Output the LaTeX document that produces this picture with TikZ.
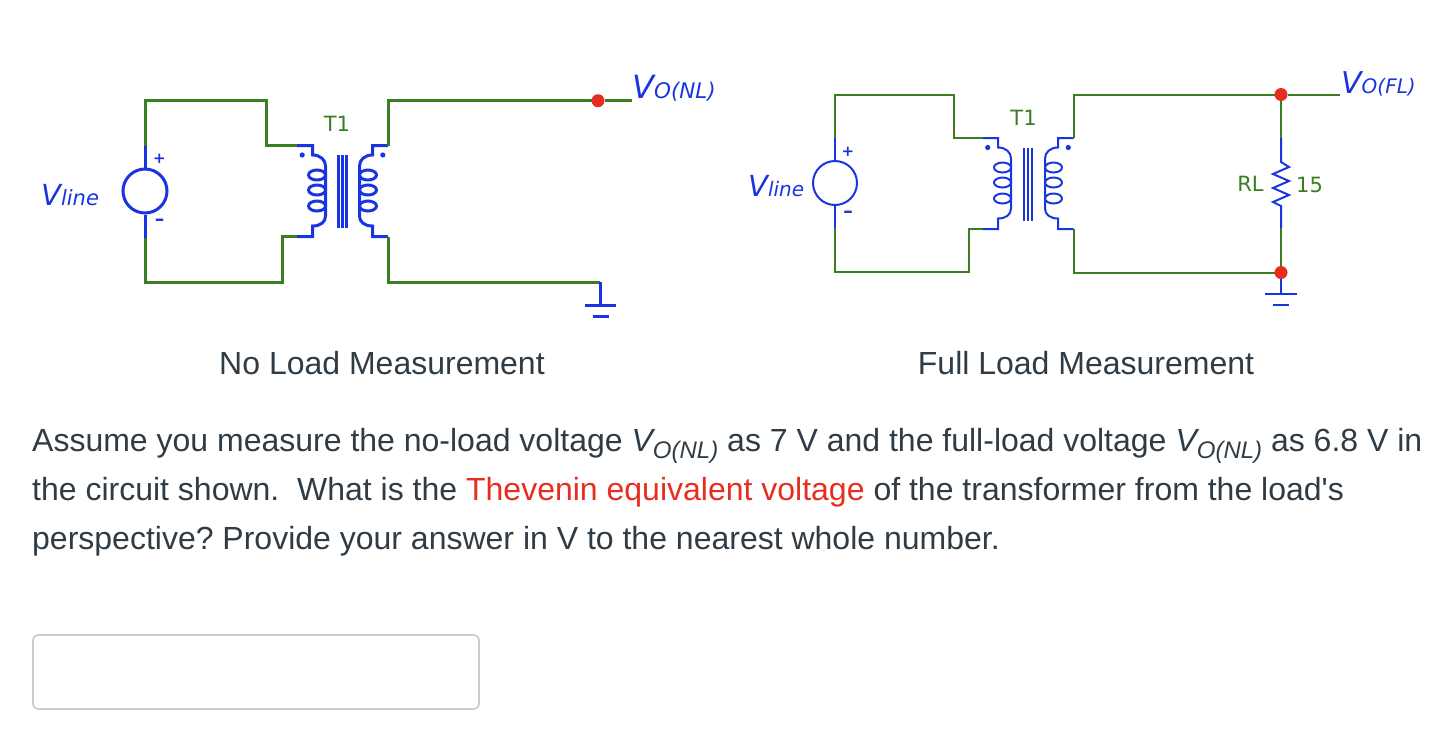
\documentclass[tikz,border=0pt]{standalone}
\usepackage{fontspec}
\setmainfont{Liberation Sans}
\newfontfamily\schfont{DejaVu Sans}
\definecolor{wireblue}{HTML}{1A35E0}
\definecolor{wiregreen}{HTML}{3A7D22}
\definecolor{probered}{HTML}{E62E20}
\definecolor{bodygrey}{HTML}{2F3C46}
\definecolor{boxgrey}{HTML}{C8CCCE}
\newcommand{\bodysize}{\fontsize{32}{38}\selectfont}
\newcommand{\vsub}[1]{{\itshape V}\raisebox{-7.5pt}{\fontsize{24}{24}\selectfont\itshape #1}}
\tikzset{
	x=1pt, y=-1pt,
	wire/.style={draw=wiregreen, line join=miter},
	lead/.style={draw=wireblue},
	source/.style={circle, draw=wireblue, minimum size=44pt, inner sep=0pt},
	probe/.style={circle, fill=probered, minimum size=13pt, inner sep=0pt, outer sep=0pt},
	sign/.style={text=wireblue, font=\schfont\bfseries\fontsize{15}{15}\selectfont, inner sep=0pt},
	negsign/.style={text=wireblue, font=\schfont\bfseries\fontsize{19}{19}\selectfont, inner sep=0pt},
	partname/.style={text=wiregreen, font=\schfont\fontsize{21}{21}\selectfont, inner sep=0pt},
	caption/.style={text=bodygrey, font=\bodysize, inner sep=0pt},
	bodyline/.style={text=bodygrey, font=\bodysize, anchor=base west, inner sep=0pt},
	xfmr/.pic={
		\foreach \s in {-1,1} {
			\draw[lead, line join=miter] (\s*45.5,-45.5) -- (\s*30,-45.5) -- (\s*30,-36)
				.. controls (\s*22,-36) and (\s*17,-31) .. (\s*17,-25) -- (\s*17,25)
				.. controls (\s*17,31) and (\s*22,35) .. (\s*30,35) -- (\s*30,45.5) -- (\s*45.5,45.5);
			\foreach \h in {-16,-1,15}
				\draw[lead] (\s*25.5,\h) ellipse (8.5 and 5);
			\fill[wireblue] (\s*40.3,-36) circle (2.6);
		}
		\foreach \c in {-4.4,0,4.4}
			\draw[lead] (\c,-36) -- (\c,37);
		\coordinate (-p1) at (-45.5,-45.5);
		\coordinate (-p2) at (-45.5,45.5);
		\coordinate (-s1) at (45.5,-45.5);
		\coordinate (-s2) at (45.5,45.5);
	}
}
\begin{document}
\frenchspacing
\begin{tikzpicture}
	\useasboundingbox (0,0) rectangle (1448,732);

	% no load circuit
	\begin{scope}[line width=3pt]
		\node[source] (srcL) at (145,191) {};
		\pic (tL) at (342.5,191) {xfmr};
		\node[probe] (outL) at (598,100.7) {};
		\coordinate (aL) at (145,146);
		\coordinate (bL) at (145,238);
		\coordinate (endL) at (632,100.7);
		\coordinate (gndL) at (600,282);
		\coordinate (barL) at (600,305);
		\draw[lead] (srcL) -- (aL);
		\draw[lead] (srcL) -- (bL);
		\draw[wire] (aL) -- (145,100.7) -- (266.7,100.7) -- (266.7,145.5) -- (tL-p1);
		\draw[wire] (bL) -- (145,282) -- (282,282) -- (282,236.5) -- (tL-p2);
		\draw[wire] (tL-s1) -- (388,100.7) -- (outL) -- (endL);
		\draw[wire] (tL-s2) -- (388,282) -- (gndL);
		\draw[lead] (gndL) -- (barL);
		\draw[lead] (585,305) -- (616,305);
		\draw[lead] (592.5,316) -- (608.5,316);
	\end{scope}
	\node[sign] (plusL) at (159.5,159) {+};
	\node[negsign] (minusL) at (159.5,222) {–};
	\node[partname] (nameL) at (337,124) {T1};
	\node[inner sep=0pt, anchor=base west, text=wireblue] (vL) at (41,205) {\schfont\itshape\fontsize{29}{29}\selectfont V\fontsize{21}{21}\selectfont line};
	\node[inner sep=0pt, anchor=base west, text=wireblue] (voL) at (632,98) {\schfont\itshape\fontsize{32}{32}\selectfont V\fontsize{21.5}{21.5}\selectfont O(NL)};
	\node[caption] (capL) at (382,363) {No Load Measurement};

	% full load circuit
	\begin{scope}[line width=2pt]
		\node[source] (srcR) at (835,183) {};
		\pic (tR) at (1028,183.5) {xfmr};
		\node[probe] (topR) at (1281,94.5) {};
		\node[probe] (botR) at (1281,272.5) {};
		\coordinate (aR) at (835,138);
		\coordinate (bR) at (835,228);
		\coordinate (endR) at (1340,94.5);
		\coordinate (rA) at (1281,138);
		\coordinate (rB) at (1281,228);
		\coordinate (barR) at (1281,294);
		\draw[lead] (srcR) -- (aR);
		\draw[lead] (srcR) -- (bR);
		\draw[wire] (aR) -- (835,94.5) -- (954,94.5) -- (954,138) -- (tR-p1);
		\draw[wire] (bR) -- (835,272) -- (969,272) -- (969,229) -- (tR-p2);
		\draw[wire] (tR-s1) -- (1073.5,94.5) -- (topR) -- (endR);
		\draw[wire] (tR-s2) -- (1073.5,272.5) -- (botR);
		\draw[wire] (topR) -- (rA);
		\draw[wire] (rB) -- (botR);
		\draw[lead, line join=miter] (rA) -- (1281,162) -- (1289,167) -- (1273,174) -- (1289,181) -- (1273,188) -- (1289,195) -- (1273,202) -- (1281,206) -- (rB);
		\draw[lead] (botR) -- (barR);
		\draw[lead] (1265,294) -- (1297,294);
		\draw[lead] (1273,305) -- (1289,305);
	\end{scope}
	\node[sign] (plusR) at (848,152) {+};
	\node[negsign] (minusR) at (848,214.5) {–};
	\node[partname] (nameR) at (1023.5,118) {T1};
	\node[partname] (labR) at (1250.5,184) {RL};
	\node[partname] (valR) at (1309.5,184.5) {15};
	\node[inner sep=0pt, anchor=base west, text=wireblue] (vR) at (748,196) {\schfont\itshape\fontsize{29}{29}\selectfont V\fontsize{20}{20}\selectfont line};
	\node[inner sep=0pt, anchor=base west, text=wireblue] (voR) at (1341,93) {\schfont\itshape\fontsize{30}{30}\selectfont V\fontsize{20}{20}\selectfont O(FL)};
	\node[caption] (capR) at (1086,363) {Full Load Measurement};

	% question text
	\node[bodyline] (lineA) at (32,451) {Assume you measure the no-load voltage \vsub{O(NL)} as 7 V and the full-load voltage \vsub{O(NL)} as 6.8 V in};
	\node[bodyline] (lineB) at (32,500) {the circuit shown.\ \ What is the {\color{probered}Thevenin equivalent voltage} of the transformer from the load\textquotesingle s};
	\node[bodyline] (lineC) at (32,549) {perspective? Provide your answer in V to the nearest whole number.};

	\draw[boxgrey, line width=1.6pt, rounded corners=5pt] (33,635) rectangle (479,709);
\end{tikzpicture}
\end{document}
